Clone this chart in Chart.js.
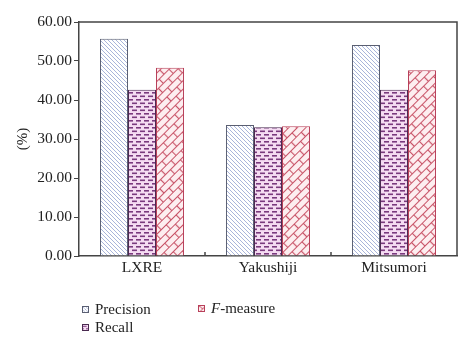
<!DOCTYPE html>
<html>
<head>
<meta charset="utf-8">
<script src="https://cdn.jsdelivr.net/npm/chart.js@4"></script>
<style>
  body { margin: 0; background: #fff; }
  #wrap { position: relative; width: 474px; height: 349px; }
  #legend { position: absolute; left: 0; top: 0; font-family: "Liberation Serif", serif; font-size: 15px; color: #222; }
  .item { position: absolute; white-space: nowrap; line-height: 17px; }
  .item canvas { position: absolute; left: 0; top: 5px; width: 7px; height: 7px; border: 1px solid #555; box-sizing: border-box; }
  .item span { position: absolute; left: 13px; top: 0; }
</style>
</head>
<body>
<div id="wrap">
  <canvas id="grafico" width="474" height="349"></canvas>
  <div id="legend"></div>
</div>
<script>
// ===== datos =====
const categorias = ["LXRE", "Yakushiji", "Mitsumori"];
const precision = [55.7, 33.6, 54.1];
const recall = [42.6, 33.0, 42.6];
const fMeasure = [48.3, 33.3, 47.6];
const yTicks = [0, 10, 20, 30, 40, 50, 60];

// ===== patrones =====
function patronDiagonal() {
  const c = document.createElement("canvas");
  c.width = 4; c.height = 4;
  const g = c.getContext("2d");
  g.fillStyle = "#ffffff"; g.fillRect(0, 0, 4, 4);
  g.strokeStyle = "#a9b5da"; g.lineWidth = 1;
  g.beginPath();
  g.moveTo(-1, -1); g.lineTo(5, 5);
  g.moveTo(-1, 3); g.lineTo(1, 5);
  g.moveTo(3, -1); g.lineTo(5, 1);
  g.stroke();
  return g.createPattern(c, "repeat");
}

function patronGuiones() {
  const c = document.createElement("canvas");
  c.width = 8; c.height = 7;
  const g = c.getContext("2d");
  g.fillStyle = "#f5dcf2"; g.fillRect(0, 0, 8, 7);
  g.fillStyle = "#7a3a7e";
  g.fillRect(0, 1, 5, 1.6);
  g.fillRect(4, 4.5, 5, 1.6);
  g.fillRect(-4, 4.5, 5, 1.6);
  return g.createPattern(c, "repeat");
}

function patronLadrillo() {
  const c = document.createElement("canvas");
  c.width = 14; c.height = 12;
  const g = c.getContext("2d");
  g.fillStyle = "#fdeef0"; g.fillRect(0, 0, 14, 12);
  g.strokeStyle = "#c85468"; g.lineWidth = 1.2;
  g.beginPath();
  g.moveTo(0, 0.5); g.lineTo(14, 0.5);
  g.moveTo(0, 6.5); g.lineTo(14, 6.5);
  g.moveTo(0.5, 0.5); g.lineTo(0.5, 6.5);
  g.moveTo(7.5, 6.5); g.lineTo(7.5, 12);
  g.stroke();
  const p = g.createPattern(c, "repeat");
  p.setTransform(new DOMMatrix().rotate(-45));
  return p;
}

const series = [
  { label: "Precision", data: precision, fill: patronDiagonal(), borde: "#5a5f72" },
  { label: "Recall", data: recall, fill: patronGuiones(), borde: "#4a2a50" },
  { label: "F-measure", data: fMeasure, fill: patronLadrillo(), borde: "#b8405a" }
];

// ===== marco y marcas internas =====
const marco = {
  id: "marco",
  afterDatasetsDraw(chart) {
    const { ctx, chartArea: a, scales } = chart;
    ctx.save();
    ctx.strokeStyle = "#444";
    ctx.lineWidth = 1.5;
    ctx.beginPath();
    ctx.moveTo(a.left, a.top); ctx.lineTo(a.right, a.top); ctx.lineTo(a.right, a.bottom);
    ctx.stroke();
    // marcas entre categorias
    const x = scales.x;
    for (let i = 1; i < categorias.length; i++) {
      const px = (x.getPixelForValue(i - 1) + x.getPixelForValue(i)) / 2;
      ctx.beginPath();
      ctx.moveTo(px, a.bottom); ctx.lineTo(px, a.bottom - 4);
      ctx.stroke();
    }
    ctx.restore();
  }
};

const serif = "'Liberation Serif', serif";

new Chart(document.getElementById("grafico"), {
  type: "bar",
  data: {
    labels: categorias,
    datasets: series.map(s => ({
      label: s.label,
      data: s.data,
      backgroundColor: s.fill,
      borderColor: s.borde,
      borderWidth: 1,
      borderSkipped: "bottom",
      categoryPercentage: 0.667,
      barPercentage: 1
    }))
  },
  options: {
    responsive: false,
    animation: false,
    layout: { padding: { top: 22, right: 17, left: 0, bottom: 0 } },
    plugins: { legend: { display: false }, tooltip: { enabled: false } },
    scales: {
      y: {
        min: 0, max: 60,
        afterBuildTicks: sc => { sc.ticks = yTicks.map(v => ({ value: v })); },
        afterFit: sc => { sc.width = 79; },
        grid: { display: true, drawOnChartArea: false, drawTicks: true, tickLength: 5, color: "#444" },
        border: { display: true, color: "#444", width: 1.5 },
        ticks: {
          padding: 2,
          color: "#222",
          font: { family: serif, size: 15.5 },
          callback: v => Number(v).toFixed(2)
        },
        title: { display: true, text: "(%)", color: "#222", font: { family: serif, size: 15 }, padding: { top: 14, bottom: 0 } }
      },
      x: {
        afterFit: sc => { sc.height = 93; },
        grid: { display: false, drawTicks: false },
        border: { display: true, color: "#444", width: 1.5 },
        ticks: { padding: 3, color: "#222", font: { family: serif, size: 15.5 } }
      }
    }
  },
  plugins: [marco]
});

// ===== leyenda =====
const posiciones = [
  { x: 82, y: 301 },
  { x: 82, y: 319 },
  { x: 198, y: 300 }
];
const leyenda = document.getElementById("legend");
series.forEach((s, i) => {
  const it = document.createElement("div");
  it.className = "item";
  it.style.left = posiciones[i].x + "px";
  it.style.top = posiciones[i].y + "px";
  const sw = document.createElement("canvas");
  sw.width = 7; sw.height = 7;
  const g = sw.getContext("2d");
  g.fillStyle = s.fill; g.fillRect(0, 0, 7, 7);
  sw.style.borderColor = s.borde;
  const t = document.createElement("span");
  if (s.label === "F-measure") {
    t.innerHTML = "<i>F</i>-measure";
  } else {
    t.textContent = s.label;
  }
  it.appendChild(sw);
  it.appendChild(t);
  leyenda.appendChild(it);
});
</script>
</body>
</html>
